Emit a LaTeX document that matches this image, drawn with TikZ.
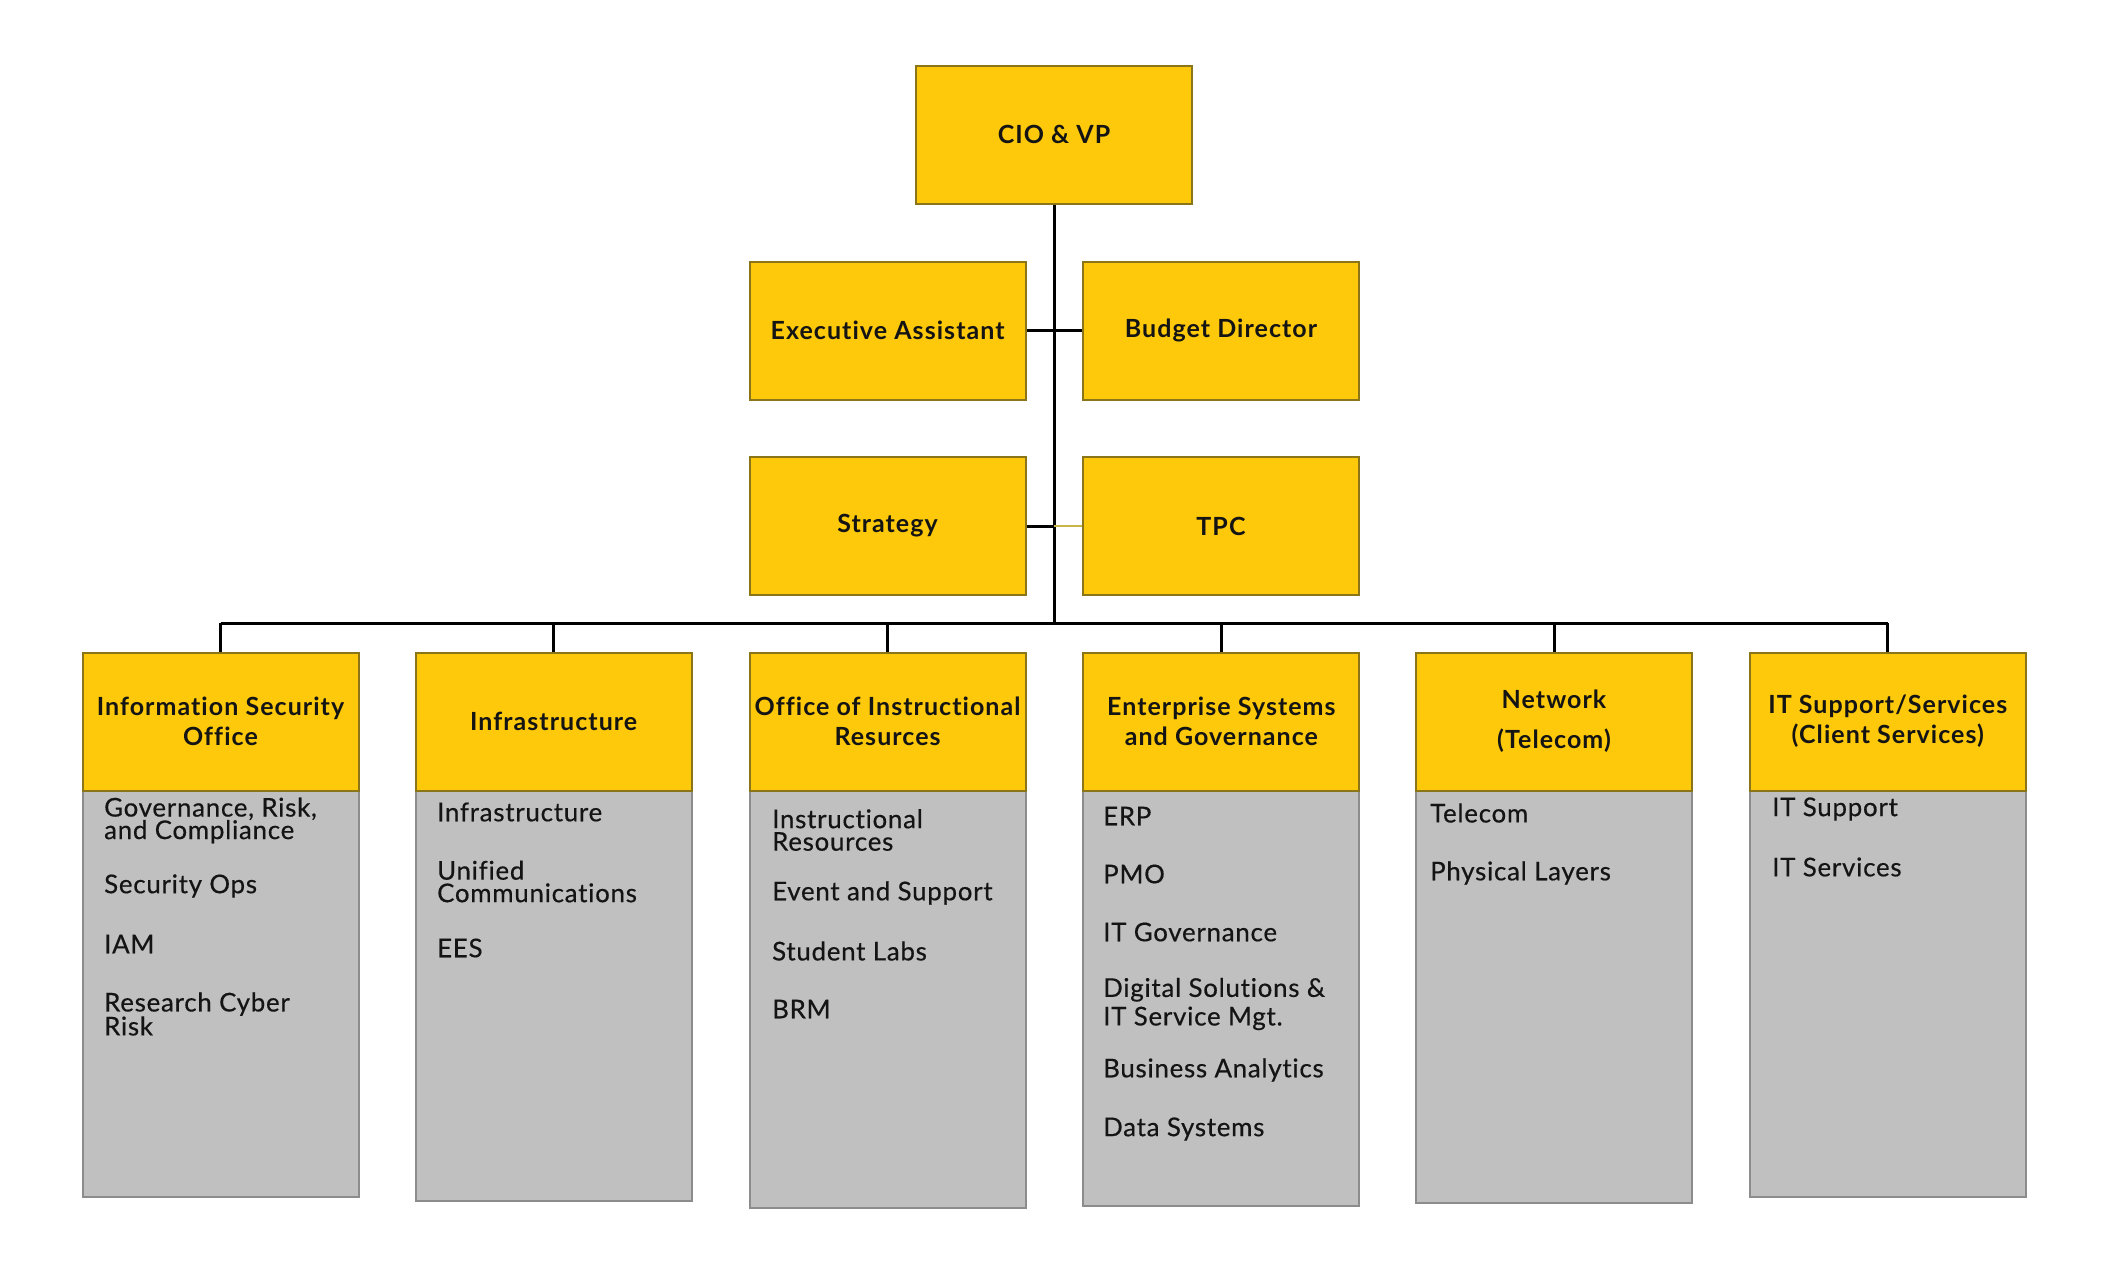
\documentclass[tikz,border=0pt]{standalone}
\usepackage{fontspec}
\setmainfont{Lato}
\newfontfamily\hdrfont[LetterSpace=4.2,Ligatures=NoCommon]{Lato}
\newfontfamily\itemfont[LetterSpace=3,Ligatures=NoCommon,FakeBold=0.5]{Lato}
\definecolor{hdrfill}{HTML}{FDC90A}
\definecolor{hdrline}{HTML}{8A7518}
\definecolor{subfill}{HTML}{C0C0C0}
\definecolor{subline}{HTML}{8C8C8C}
\definecolor{txt}{HTML}{141414}
\definecolor{thinline}{HTML}{C9B448}
\tikzset{
  hdr/.style={draw=hdrline, fill=hdrfill, line width=2pt, minimum width=276pt, minimum height=138pt, inner sep=0pt, align=center, text=txt, font=\hdrfont\fontsize{25}{30}\selectfont\bfseries},
  subbox/.style={draw=subline, fill=subfill, line width=2pt, minimum width=276pt, anchor=north, inner sep=0pt},
  item/.style={anchor=west, align=left, text=txt, inner sep=0pt, font=\itemfont\fontsize{25.8}{23}\selectfont},
  conn/.style={line width=3pt, black},
}
\begin{document}
\begin{tikzpicture}[x=1pt,y=-1pt]
\useasboundingbox[fill=white] (0,0) rectangle (2115,1270);
% top
\node[hdr] (cio) at (1054,134.5) {CIO \& VP};
\node[hdr] (ea) at (887.6,330.5) {Executive Assistant};
\node[hdr] (bd) at (1221,330.5) {Budget Director};
\node[hdr] (st) at (887.6,526) {Strategy};
\node[hdr] (tpc) at (1221,526) {TPC};
% gray sub boxes
\node[subbox, minimum height=406pt] (g1) at (220.5,790) {};
\node[subbox, minimum height=410pt] (g2) at (553.7,790) {};
\node[subbox, minimum height=417pt] (g3) at (887.6,790) {};
\node[subbox, minimum height=415pt] (g4) at (1221.4,790) {};
\node[subbox, minimum height=412pt] (g5) at (1554,790) {};
\node[subbox, minimum height=406pt] (g6) at (1887.8,790) {};
% headers
\node[hdr] (d1) at (220.5,721.5) {Information Security\\Office};
\node[hdr] (d2) at (553.7,721.5) {Infrastructure};
\node[hdr] (d3) at (887.6,721.5) {Office of Instructional\\Resurces};
\node[hdr] (d4) at (1221.4,721.5) {Enterprise Systems\\and Governance};
\node[hdr, font=\hdrfont\fontsize{25}{40}\selectfont\bfseries] (d5) at (1554,721.5) {Network\\(Telecom)};
\node[hdr] (d6) at (1887.8,721.5) {IT Support/Services\\(Client Services)};
% connectors
\coordinate (bus) at (cio.south |- 0,623);
\coordinate (busl) at (d1.north |- 0,623);
\coordinate (busr) at (d6.north |- 0,623);
\coordinate (mid2) at (cio.south |- st.east);
\draw[conn] (cio.south) -- (bus);
\draw[conn] (busl) -- (busr);
\draw[conn] (ea.east) -- (bd.west);
\draw[conn] (st.east) -- (mid2);
\draw[thinline, line width=1.2pt] (mid2) -- (tpc.west);
\foreach \d in {d1,d2,d3,d4,d5,d6} {\draw[conn] (\d.north |- 0,623) -- (\d.north);}
% items
\node[item] (i11) at (104,820.5) {Governance, Risk,\\[-0.5pt]and Compliance};
\node[item] (i12) at (104,886) {Security Ops};
\node[item] (i13) at (104,944) {IAM};
\node[item] (i14) at (104,1014) {Research Cyber\\[-0.5pt]Risk};
\node[item] (i21) at (437,812) {Infrastructure};
\node[item] (i22) at (437,881.5) {Unified\\[-0.5pt]Communications};
\node[item] (i23) at (437,948) {EES};
\node[item] (i31) at (772,830) {Instructional\\[-0.5pt]Resources};
\node[item] (i32) at (772,893) {Event and Support};
\node[item] (i33) at (772,951) {Student Labs};
\node[item] (i34) at (772,1009) {BRM};
\node[item] (i41) at (1103,816) {ERP};
\node[item] (i42) at (1103,874) {PMO};
\node[item] (i43) at (1103,932) {IT Governance};
\node[item] (i44) at (1103,1004) {Digital Solutions \&\\[4pt]IT Service Mgt.};
\node[item] (i45) at (1103,1070) {Business Analytics};
\node[item] (i46) at (1103,1129) {Data Systems};
\node[item] (i51) at (1430,813) {Telecom};
\node[item] (i52) at (1430,873) {Physical Layers};
\node[item] (i61) at (1772,809) {IT Support};
\node[item] (i62) at (1772,867) {IT Services};
\end{tikzpicture}
\end{document}
